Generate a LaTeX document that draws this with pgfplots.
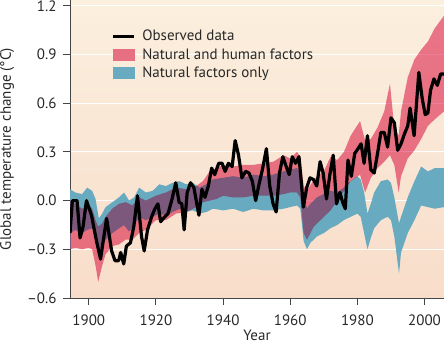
\documentclass[border=0pt]{standalone}
\usepackage{fontspec}
\setmainfont{PT Sans}
\usepackage{pgfplots}
\usepackage{pgfplotstable}
\pgfplotsset{compat=1.18}
\usepgfplotslibrary{fillbetween}
\definecolor{bgTop}{RGB}{251,239,222}
\definecolor{bgBot}{RGB}{248,221,202}
\definecolor{pinkC}{RGB}{231,112,128}
\definecolor{pinkM}{RGB}{237,125,155}
\definecolor{purpC}{RGB}{124,88,125}
\definecolor{blueC}{RGB}{104,170,192}
\definecolor{axisC}{RGB}{70,70,70}
\definecolor{txtC}{RGB}{40,40,40}

\pgfplotstableread{
x u l
1894.4 0.07 -0.20
1896 0.05 -0.18
1898 0.04 -0.20
1899.5 0.08 -0.18
1901 0.06 -0.17
1902 0.01 -0.22
1903 -0.11 -0.30
1904 -0.08 -0.28
1905 -0.04 -0.24
1907 -0.01 -0.20
1909 0.02 -0.17
1910.5 0.05 -0.15
1912 0.00 -0.19
1913.5 0.02 -0.15
1915 0.08 -0.10
1917 0.05 -0.12
1919 0.06 -0.10
1921 0.10 -0.08
1923 0.09 -0.09
1925 0.11 -0.07
1927 0.12 -0.05
1929 0.10 -0.07
1931 0.11 -0.06
1933 0.08 -0.08
1935 0.10 -0.07
1937 0.13 -0.05
1940 0.14 -0.06
1943 0.15 -0.05
1946 0.14 -0.07
1949 0.16 -0.05
1952 0.15 -0.06
1955 0.16 -0.06
1958 0.18 -0.05
1960 0.19 -0.04
1962 0.20 -0.03
1963 0.17 -0.05
1964 0.02 -0.25
1965 -0.05 -0.30
1966 -0.02 -0.26
1968 0.02 -0.22
1970 0.04 -0.20
1972 0.06 -0.17
1974 0.05 -0.15
1976 0.08 -0.12
1978 0.12 -0.10
1980 0.15 -0.08
1981 0.13 -0.10
1982 0.05 -0.20
1983 -0.08 -0.30
1984 -0.02 -0.23
1985 0.05 -0.17
1987 0.12 -0.12
1989 0.13 -0.10
1990 0.11 -0.12
1991 0.02 -0.22
1992.4 -0.14 -0.45
1993 -0.10 -0.32
1995 0.02 -0.20
1997 0.12 -0.12
1999 0.21 -0.03
2001 0.18 -0.04
2003 0.20 -0.05
2005.8 0.20 -0.04
}\blueband

\pgfplotstableread{
x u l
1894.4 0.00 -0.30
1896 -0.02 -0.29
1898 -0.05 -0.30
1900 -0.03 -0.29
1901 -0.05 -0.30
1902 -0.12 -0.40
1902.8 -0.16 -0.50
1904 -0.14 -0.40
1905 -0.10 -0.33
1907 -0.05 -0.28
1909 -0.02 -0.27
1911 -0.01 -0.24
1913 -0.03 -0.24
1915 0.02 -0.20
1917 0.00 -0.18
1920 0.03 -0.12
1923 0.05 -0.12
1926 0.08 -0.08
1929 0.07 -0.07
1932 0.09 -0.04
1934 0.12 -0.01
1936 0.18 0.00
1938 0.20 0.01
1940 0.22 0.03
1943 0.21 0.02
1946 0.22 0.02
1949 0.22 0.03
1952 0.23 0.03
1955 0.24 0.03
1958 0.28 0.04
1960 0.26 0.05
1962 0.30 0.05
1963 0.27 0.02
1964 0.09 -0.20
1965 0.06 -0.24
1967 0.13 -0.16
1970 0.18 -0.10
1972 0.27 -0.06
1974 0.25 0.00
1976 0.30 0.06
1978 0.40 0.12
1980.8 0.49 0.16
1982.3 0.37 0.05
1984 0.38 0.14
1986 0.45 0.20
1988 0.55 0.24
1989.7 0.72 0.28
1991 0.45 0.22
1992.3 0.40 0.05
1993 0.55 0.15
1995 0.76 0.26
1997 0.87 0.31
1999 0.93 0.38
2001 0.98 0.46
2003 1.06 0.50
2005.8 1.14 0.55
}\redband

\pgfplotstableread{
x y
1894.4 -0.20
1895.1 0.00
1896.5 0.00
1897.4 -0.23
1898.3 -0.16
1899.3 0.00
1900.8 -0.09
1902.3 -0.25
1903.5 -0.36
1905.3 -0.11
1906.8 -0.31
1907.8 -0.37
1908.9 -0.37
1909.5 -0.32
1910.4 -0.39
1911.2 -0.28
1912.4 -0.26
1913.4 -0.16
1914.5 0.03
1915.7 -0.22
1916.5 -0.31
1917.5 -0.18
1918.7 -0.10
1919.7 -0.05
1920.6 -0.02
1921.4 -0.13
1922.6 -0.10
1923.6 -0.08
1924.8 0.01
1925.9 0.11
1926.9 -0.01
1927.7 -0.02
1928.4 -0.18
1929.3 0.05
1930.3 0.11
1931.3 0.08
1932.8 -0.09
1933.7 0.07
1934.6 0.02
1935.6 0.09
1936.6 0.20
1937.5 0.16
1938.7 0.23
1939.7 0.23
1940.6 0.18
1941.6 0.23
1942.7 0.21
1943.6 0.37
1944.6 0.28
1945.6 0.14
1946.7 0.18
1947.7 0.17
1948.7 0.12
1949.7 0.00
1950.7 0.10
1951.8 0.20
1952.9 0.32
1953.9 0.09
1954.9 -0.02
1955.8 -0.07
1956.8 0.17
1957.8 0.27
1958.8 0.21
1959.7 0.16
1960.6 0.27
1961.6 0.23
1962.6 0.27
1963.4 0.09
1963.9 -0.04
1964.9 0.08
1965.9 0.14
1966.9 0.13
1967.9 0.09
1968.9 0.24
1969.8 0.17
1970.8 0.01
1971.8 0.16
1972.8 0.28
1973.8 -0.02
1974.8 0.05
1975.6 -0.01
1976.4 -0.05
1977.2 0.25
1978.2 0.15
1979.2 0.29
1980.2 0.32
1981.1 0.35
1982.0 0.23
1983.0 0.40
1984.0 0.19
1985.0 0.17
1986.0 0.29
1987.0 0.42
1988.0 0.42
1989.0 0.33
1990.0 0.51
1991.0 0.48
1992.0 0.31
1993.0 0.35
1994.0 0.41
1995.0 0.46
1995.7 0.57
1996.9 0.40
1998.3 0.79
1999.3 0.63
2000.2 0.53
2001.0 0.54
2001.8 0.68
2002.8 0.75
2003.8 0.71
2004.8 0.78
2005.8 0.78
}\observed

\begin{document}
\begin{tikzpicture}
\begin{axis}[
  scale only axis, width=374bp, height=298bp,
  xmin=1894.4, xmax=2005.8, ymin=-0.6, ymax=1.236,
  axis lines*=left, axis line style={axisC, line width=0.9bp, -},
  axis background/.style={top color=bgTop, bottom color=bgBot},
  xtick={1900,1920,1940,1960,1980,2000},
  xticklabels={1900,1920,1940,1960,1980,2000},
  ytick={-0.6,-0.3,0,0.3,0.6,0.9,1.2},
  yticklabels={\textendash0.6,\textendash0.3,0.0,0.3,0.6,0.9,1.2},
  tick align=outside, major tick length=7bp,
  tick style={axisC, line width=0.9bp},
  ymajorgrids, grid style={white, line width=0.9bp},
  tick label style={font=\fontsize{15bp}{17bp}\selectfont, text=txtC},
  xticklabel style={yshift=-6bp},
  yticklabel style={xshift=-3bp},
  label style={font=\fontsize{15bp}{17bp}\selectfont, text=txtC},
  xlabel={Year},
  ylabel={Global temperature change (°C)},
  xlabel style={at={(axis description cs:0.5,0)}, anchor=base, yshift=-42bp},
  ylabel style={at={(axis description cs:-0.168,0.5)}, anchor=center},
  legend style={at={(axis description cs:0.11,0.906)}, anchor=north west, draw=none, fill=none,
    font=\fontsize{15bp}{15bp}\selectfont, text=txtC, row sep=2bp, column sep=5bp, cells={anchor=west}, inner sep=0pt},
]
\addplot[name path=bu, draw=none, forget plot] table[x=x,y=u]{\blueband};
\addplot[name path=bl, draw=none, forget plot] table[x=x,y=l]{\blueband};
\addplot[fill=blueC, draw=none, forget plot] fill between[of=bu and bl];
\addplot[name path=ru, draw=none, forget plot] table[x=x,y=u]{\redband};
\addplot[name path=rl, draw=none, forget plot] table[x=x,y=l]{\redband};
\addplot[fill=pinkM, draw=none, blend mode=multiply, forget plot] fill between[of=ru and rl];
\addplot[fill=purpC, draw=none, blend mode=lighten, forget plot] fill between[of=ru and rl];
\addplot[black, line width=3.2bp, line join=round, forget plot] table[x=x,y=y]{\observed};

\addlegendimage{legend image code/.code={\draw[black, line width=3bp] (0bp,0bp) -- (21bp,0bp);}}
\addlegendentry{Observed data}
\addlegendimage{legend image code/.code={\fill[pinkC] (0bp,-5.5bp) rectangle (21bp,5.5bp);}}
\addlegendentry{Natural and human factors}
\addlegendimage{legend image code/.code={\fill[blueC] (0bp,-5.5bp) rectangle (21bp,5.5bp);}}
\addlegendentry{Natural factors only}

\coordinate (BL) at (rel axis cs:0,0);
\coordinate (TR) at (rel axis cs:1,1);
\end{axis}
\pgfresetboundingbox
\useasboundingbox ([shift={(-70bp,-46bp)}]BL) rectangle (TR);
\end{tikzpicture}
\end{document}
